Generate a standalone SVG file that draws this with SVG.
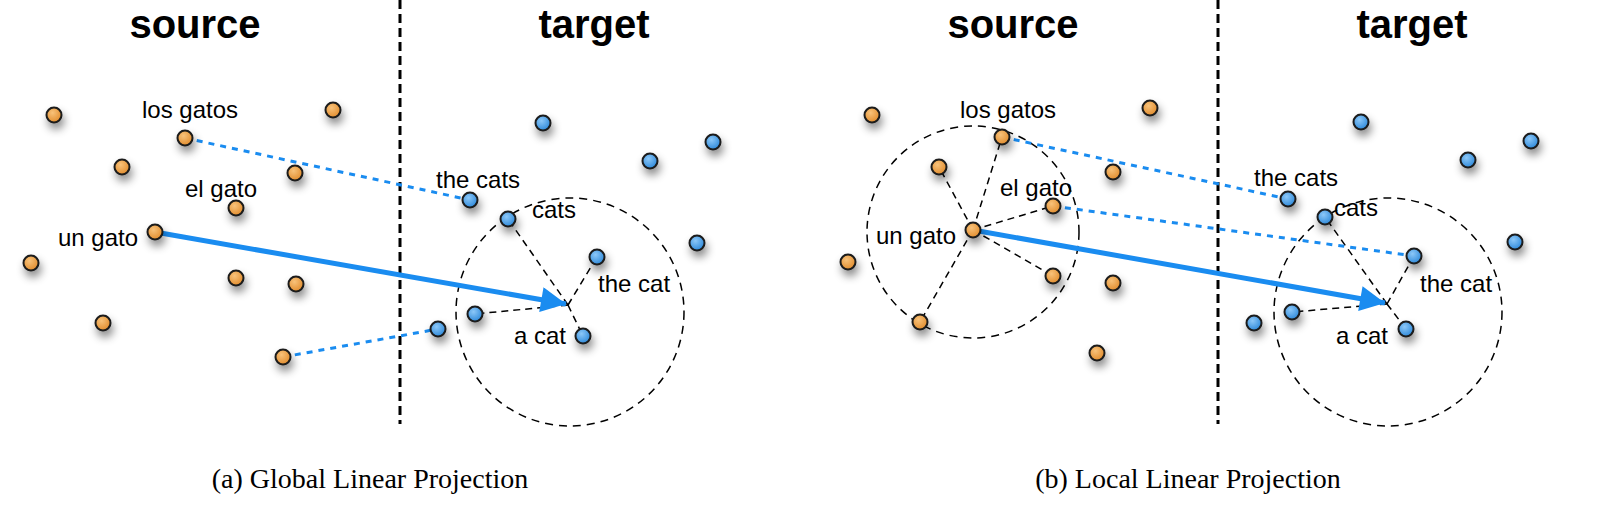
<svg xmlns="http://www.w3.org/2000/svg" width="1606" height="511" viewBox="0 0 1606 511">
<defs>
<radialGradient id="go" cx="0.4" cy="0.35" r="0.7"><stop offset="0" stop-color="#f8c27a"/><stop offset="1" stop-color="#e08a2a"/></radialGradient>
<radialGradient id="gb" cx="0.4" cy="0.35" r="0.7"><stop offset="0" stop-color="#8cc8f8"/><stop offset="1" stop-color="#2a86d8"/></radialGradient>
<filter id="sh" x="-100%" y="-100%" width="300%" height="300%"><feDropShadow dx="2" dy="6" stdDeviation="4" flood-color="#000" flood-opacity="0.45"/></filter>
<marker id="ah" viewBox="0 0 10 10" refX="10" refY="5" markerWidth="6.5" markerHeight="5" orient="auto" markerUnits="strokeWidth"><path d="M0,0L10,5L0,10z" fill="#1a8cf0"/></marker>
<g id="po"><circle r="7.5" fill="url(#go)" stroke="#1a1a1a" stroke-width="2" filter="url(#sh)"/></g>
<g id="pb"><circle r="7.5" fill="url(#gb)" stroke="#1a1a1a" stroke-width="2" filter="url(#sh)"/></g>
</defs>
<style>
text{font-family:"Liberation Sans",Arial,sans-serif;fill:#000}
.lbl{font-size:24px}
.ttl{font-size:40px;font-weight:bold}
.cap{font-family:"Liberation Serif","Times New Roman",serif;font-size:28px}
.div{stroke:#000;stroke-width:3;stroke-dasharray:9,5;fill:none}
.ring{stroke:#000;stroke-width:1.5;stroke-dasharray:8,6;fill:none}
.nb{stroke:#000;stroke-width:1.5;stroke-dasharray:7,5;fill:none}
.dot{stroke:#1a8cf0;stroke-width:3;stroke-dasharray:6,6;fill:none}
.arr{stroke:#1a8cf0;stroke-width:5;fill:none}
</style>
<g id="titles">
<text class="ttl" x="195" y="38" text-anchor="middle">source</text>
<text class="ttl" x="594" y="38" text-anchor="middle">target</text>
<text class="ttl" x="1013" y="38" text-anchor="middle">source</text>
<text class="ttl" x="1412" y="38" text-anchor="middle">target</text>
<text class="cap" x="370" y="488" text-anchor="middle">(a) Global Linear Projection</text>
<text class="cap" x="1188" y="488" text-anchor="middle">(b) Local Linear Projection</text>
</g>
<g id="connectors">
<line class="div" x1="400" y1="0" x2="400" y2="424"/>
<line class="div" x1="1218" y1="0" x2="1218" y2="424"/>
<circle class="ring" cx="570" cy="312" r="114"/>
<line class="nb" x1="568" y1="305" x2="508" y2="219"/>
<line class="nb" x1="568" y1="305" x2="597" y2="257"/>
<line class="nb" x1="568" y1="305" x2="475" y2="314"/>
<line class="nb" x1="568" y1="305" x2="583" y2="336"/>
<line class="dot" x1="185" y1="138" x2="470" y2="200"/>
<line class="dot" x1="283" y1="357" x2="438" y2="329"/>
<line class="arr" x1="155" y1="232" x2="566" y2="304" marker-end="url(#ah)"/>
<circle class="ring" cx="973" cy="232" r="106"/>
<line class="nb" x1="973" y1="230" x2="1002" y2="137"/>
<line class="nb" x1="973" y1="230" x2="939" y2="167"/>
<line class="nb" x1="973" y1="230" x2="1053" y2="206"/>
<line class="nb" x1="973" y1="230" x2="1053" y2="276"/>
<line class="nb" x1="973" y1="230" x2="920" y2="322"/>
<circle class="ring" cx="1388" cy="312" r="114"/>
<line class="nb" x1="1387" y1="304" x2="1325" y2="217"/>
<line class="nb" x1="1387" y1="304" x2="1414" y2="256"/>
<line class="nb" x1="1387" y1="304" x2="1292" y2="312"/>
<line class="nb" x1="1387" y1="304" x2="1406" y2="329"/>
<line class="dot" x1="1002" y1="137" x2="1288" y2="199"/>
<line class="dot" x1="1053" y1="206" x2="1414" y2="256"/>
<line class="arr" x1="973" y1="230" x2="1385" y2="303" marker-end="url(#ah)"/>
</g>
<g id="nodes-a">
<use href="#po" x="54" y="115"/><use href="#po" x="185" y="138"/><use href="#po" x="333" y="110"/><use href="#po" x="122" y="167"/><use href="#po" x="295" y="173"/><use href="#po" x="236" y="208"/><use href="#po" x="155" y="232"/><use href="#po" x="31" y="263"/><use href="#po" x="236" y="278"/><use href="#po" x="296" y="284"/><use href="#po" x="103" y="323"/><use href="#po" x="283" y="357"/>
<use href="#pb" x="543" y="123"/><use href="#pb" x="650" y="161"/><use href="#pb" x="713" y="142"/><use href="#pb" x="470" y="200"/><use href="#pb" x="508" y="219"/><use href="#pb" x="697" y="243"/><use href="#pb" x="597" y="257"/><use href="#pb" x="475" y="314"/><use href="#pb" x="583" y="336"/><use href="#pb" x="438" y="329"/>
<text class="lbl" x="142" y="118">los gatos</text>
<text class="lbl" x="185" y="197">el gato</text>
<text class="lbl" x="58" y="246">un gato</text>
<text class="lbl" x="436" y="188">the cats</text>
<text class="lbl" x="532" y="218">cats</text>
<text class="lbl" x="598" y="292">the cat</text>
<text class="lbl" x="514" y="344">a cat</text>
</g>
<g id="nodes-b">
<use href="#po" x="872" y="115"/><use href="#po" x="1002" y="137"/><use href="#po" x="1150" y="108"/><use href="#po" x="939" y="167"/><use href="#po" x="1113" y="172"/><use href="#po" x="1053" y="206"/><use href="#po" x="973" y="230"/><use href="#po" x="848" y="262"/><use href="#po" x="1053" y="276"/><use href="#po" x="1113" y="283"/><use href="#po" x="920" y="322"/><use href="#po" x="1097" y="353"/>
<use href="#pb" x="1361" y="122"/><use href="#pb" x="1468" y="160"/><use href="#pb" x="1531" y="141"/><use href="#pb" x="1288" y="199"/><use href="#pb" x="1325" y="217"/><use href="#pb" x="1515" y="242"/><use href="#pb" x="1414" y="256"/><use href="#pb" x="1292" y="312"/><use href="#pb" x="1406" y="329"/><use href="#pb" x="1254" y="323"/>
<text class="lbl" x="960" y="118">los gatos</text>
<text class="lbl" x="1000" y="196">el gato</text>
<text class="lbl" x="876" y="244">un gato</text>
<text class="lbl" x="1254" y="186">the cats</text>
<text class="lbl" x="1334" y="216">cats</text>
<text class="lbl" x="1420" y="292">the cat</text>
<text class="lbl" x="1336" y="344">a cat</text>
</g>
</svg>
